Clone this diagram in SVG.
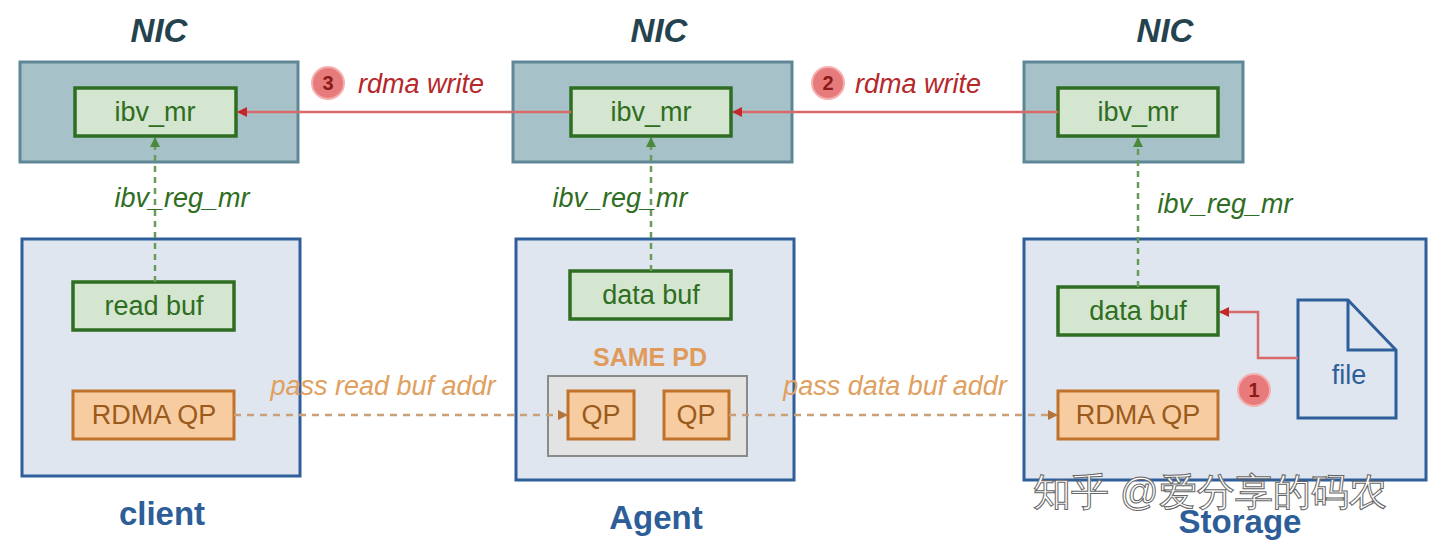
<svg xmlns="http://www.w3.org/2000/svg" width="1444" height="552" viewBox="0 0 1444 552">
<style>
text{font-family:"Liberation Sans",Arial,sans-serif}
.nic{fill:#a6c2c8;stroke:#5f8795;stroke-width:3}
.host{fill:#dfe6f0;stroke:#2f5f9a;stroke-width:3}
.g{fill:#d4e6cf;stroke:#2f6e22;stroke-width:3.5}
.o{fill:#f6cca0;stroke:#c0722a;stroke-width:3}
.gt{fill:#2f6e22;font-size:27px;text-anchor:middle}
.ot{fill:#9a5a1c;font-size:27px;text-anchor:middle}
.h{font-weight:bold;font-size:33px;text-anchor:middle}
.lab{font-style:italic;font-size:27px}
.num{fill:#e77a7a;stroke:#f4b0b0;stroke-width:2}
.numt{fill:#8a1a1a;font-weight:bold;font-size:20px;text-anchor:middle}
</style>
<defs>
<marker id="ar" viewBox="0 0 10 10" refX="9" refY="5" markerWidth="4" markerHeight="4" orient="auto"><path d="M0,0L10,5L0,10z" fill="#c2282b"/></marker>
<marker id="ag" viewBox="0 0 10 10" refX="9" refY="5" markerWidth="4" markerHeight="4" orient="auto"><path d="M0,0L10,5L0,10z" fill="#4a8a3a"/></marker>
<marker id="ao" viewBox="0 0 10 10" refX="9" refY="5" markerWidth="4" markerHeight="4" orient="auto"><path d="M0,0L10,5L0,10z" fill="#b3753a"/></marker>
</defs>
<g id="nic1"><rect class="nic" x="20" y="62" width="278" height="100"/><text class="h" x="159" y="42" fill="#24434e" font-style="italic">NIC</text><rect class="g" x="75" y="88" width="161" height="48"/><text class="gt" x="155" y="121">ibv_mr</text></g>
<g id="nic2"><rect class="nic" x="513" y="62" width="279" height="100"/><text class="h" x="659" y="42" fill="#24434e" font-style="italic">NIC</text><rect class="g" x="571" y="88" width="160" height="48"/><text class="gt" x="651" y="121">ibv_mr</text></g>
<g id="nic3"><rect class="nic" x="1024" y="62" width="219" height="100"/><text class="h" x="1165" y="42" fill="#24434e" font-style="italic">NIC</text><rect class="g" x="1058" y="88" width="160" height="48"/><text class="gt" x="1138" y="121">ibv_mr</text></g>
<g id="client"><rect class="host" x="22" y="239" width="278" height="237"/><rect class="g" x="73" y="282" width="161" height="48"/><text class="gt" x="154" y="315">read buf</text><rect class="o" x="73" y="391" width="161" height="48"/><text class="ot" x="154" y="424">RDMA QP</text><text class="h" x="162" y="525" fill="#2d5e98">client</text></g>
<g id="agent"><rect class="host" x="516" y="239" width="278" height="241"/><rect class="g" x="570" y="271" width="161" height="48"/><text class="gt" x="651" y="304">data buf</text><text x="650" y="366" fill="#e09a5a" font-weight="bold" font-size="25" text-anchor="middle">SAME PD</text><rect x="548" y="376" width="199" height="80" fill="#e3e3e3" stroke="#8a8a8a" stroke-width="2"/><rect class="o" x="568" y="391" width="66" height="48"/><text class="ot" x="601" y="424">QP</text><rect class="o" x="664" y="391" width="65" height="48"/><text class="ot" x="696" y="424">QP</text><text class="h" x="656" y="529" fill="#2d5e98">Agent</text></g>
<g id="storage"><rect class="host" x="1024" y="239" width="402" height="241"/><rect class="g" x="1058" y="287" width="160" height="48"/><text class="gt" x="1138" y="320">data buf</text><rect class="o" x="1058" y="391" width="160" height="48"/><text class="ot" x="1138" y="424">RDMA QP</text><path d="M1298,300H1348L1396,350V418H1298Z" fill="#dfe6f0" stroke="#2f5f9a" stroke-width="3"/><path d="M1348,300V350H1396" fill="none" stroke="#2f5f9a" stroke-width="3"/><text x="1349" y="384" fill="#2d5e98" font-size="27" text-anchor="middle">file</text><text class="h" x="1240" y="533" fill="#2d5e98">Storage</text></g>
<g id="connectors">
<line x1="571" y1="112" x2="238" y2="112" stroke="#d86a6a" stroke-width="2.5" marker-end="url(#ar)"/>
<line x1="1058" y1="112" x2="733" y2="112" stroke="#d86a6a" stroke-width="2.5" marker-end="url(#ar)"/>
<path d="M1298,358H1258V312H1220" fill="none" stroke="#d86a6a" stroke-width="2.5" marker-end="url(#ar)"/>
<line x1="155" y1="282" x2="155" y2="138" stroke="#6a9a5a" stroke-width="2.5" stroke-dasharray="6,5" marker-end="url(#ag)"/>
<line x1="651" y1="271" x2="651" y2="138" stroke="#6a9a5a" stroke-width="2.5" stroke-dasharray="6,5" marker-end="url(#ag)"/>
<line x1="1138" y1="287" x2="1138" y2="138" stroke="#6a9a5a" stroke-width="2.5" stroke-dasharray="6,5" marker-end="url(#ag)"/>
<line x1="234" y1="415" x2="567" y2="415" stroke="#c9a07a" stroke-width="2.5" stroke-dasharray="7,6" marker-end="url(#ao)"/>
<line x1="729" y1="415" x2="1057" y2="415" stroke="#c9a07a" stroke-width="2.5" stroke-dasharray="7,6" marker-end="url(#ao)"/>
</g>
<g id="labels">
<circle class="num" cx="328" cy="83" r="16"/><text class="numt" x="328" y="90">3</text><text class="lab" x="358" y="93" fill="#b5282b">rdma write</text>
<circle class="num" cx="828" cy="83" r="16"/><text class="numt" x="828" y="90">2</text><text class="lab" x="855" y="93" fill="#b5282b">rdma write</text>
<circle class="num" cx="1254" cy="390" r="16"/><text class="numt" x="1254" y="397">1</text>
<text class="lab" x="182" y="207" fill="#2f6e22" text-anchor="middle">ibv_reg_mr</text>
<text class="lab" x="620" y="207" fill="#2f6e22" text-anchor="middle">ibv_reg_mr</text>
<text class="lab" x="1225" y="213" fill="#2f6e22" text-anchor="middle">ibv_reg_mr</text>
<text class="lab" x="383" y="395" fill="#e0a060" text-anchor="middle">pass read buf addr</text>
<text class="lab" x="895" y="395" fill="#e0a060" text-anchor="middle">pass data buf addr</text>
<text x="1210" y="505" font-family="'Noto Sans CJK SC',sans-serif" font-size="38" fill="#ffffff" stroke="#666" stroke-width="1" text-anchor="middle">知乎 @爱分享的码农</text>
</g>
</svg>
